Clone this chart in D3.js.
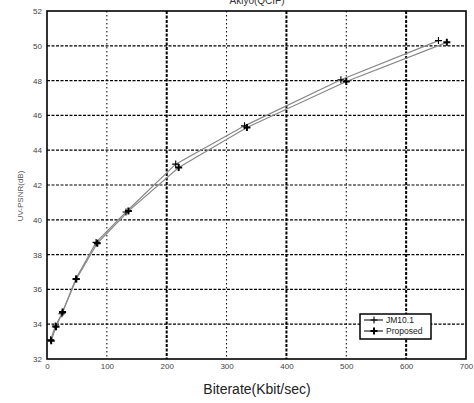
<html>
<head>
<script src="https://cdnjs.cloudflare.com/ajax/libs/d3/7.8.5/d3.min.js"></script>
<style>
  body { margin: 0; background: #fff; }
  text { font-family: "Liberation Sans", Arial, sans-serif; }
</style>
</head>
<body>
<script>
  // data
  var seriesNames = ["JM10.1", "Proposed"];
  var jmRate   = [6, 14, 25, 48, 82, 132, 215, 330, 491, 654];
  var jmPsnr   = [33.1, 33.9, 34.6, 36.6, 38.7, 40.45, 43.2, 45.4, 48.05, 50.3];
  var propRate = [7, 15, 26, 49, 84, 136, 220, 334, 500, 668];
  var propPsnr = [33.05, 33.85, 34.7, 36.6, 38.65, 40.5, 43.0, 45.3, 47.95, 50.2];
  var xTicks = [0, 100, 200, 300, 400, 500, 600, 700];
  var yTicks = [32, 34, 36, 38, 40, 42, 44, 46, 48, 50, 52];

  var W = 474, H = 403;
  var svg = d3.select("body").append("svg").attr("width", W).attr("height", H);

  var x = d3.scaleLinear().domain([0, 700]).range([47, 466]);
  var y = d3.scaleLinear().domain([32, 52]).range([359, 11]);

  // cropped title at the very top
  svg.append("text").attr("x", 257).attr("y", 4).attr("text-anchor", "middle")
     .attr("font-size", 10).attr("fill", "#333").text("Akiyo(QCIF)");

  // grid
  var g = svg.append("g");
  g.selectAll(".vg").data(xTicks.slice(1, -1)).enter().append("line")
    .attr("x1", function(d) { return x(d); }).attr("x2", function(d) { return x(d); })
    .attr("y1", y(52)).attr("y2", y(32))
    .attr("stroke", "#000")
    .attr("stroke-width", function(d) { return d % 200 == 0 ? 2 : 1; })
    .attr("stroke-dasharray", function(d) { return d % 200 == 0 ? "3,1.5" : "1.5,2.5"; });
  g.selectAll(".hg").data(yTicks.slice(1, -1)).enter().append("line")
    .attr("x1", x(0)).attr("x2", x(700))
    .attr("y1", function(d) { return y(d); }).attr("y2", function(d) { return y(d); })
    .attr("stroke", "#000").attr("stroke-width", 1.2)
    .attr("stroke-dasharray", "3,1.5");

  // axes
  var xAxis = svg.append("g").attr("transform", "translate(0," + y(32) + ")")
    .call(d3.axisBottom(x).tickValues(xTicks).tickSize(0).tickPadding(4));
  var yAxis = svg.append("g").attr("transform", "translate(" + x(0) + ",0)")
    .call(d3.axisLeft(y).tickValues(yTicks).tickSize(0).tickPadding(5));
  [xAxis, yAxis].forEach(function(a) {
    a.select(".domain").remove();
    a.selectAll("text").attr("font-size", 8).attr("fill", "#444")
      .attr("font-family", "'Liberation Sans', Arial, sans-serif");
  });

  // frame
  svg.append("rect").attr("x", x(0)).attr("y", y(52))
    .attr("width", x(700) - x(0)).attr("height", y(32) - y(52))
    .attr("fill", "none").attr("stroke", "#000").attr("stroke-width", 1.6);

  // lines
  var line = d3.line().x(function(d) { return x(d[0]); }).y(function(d) { return y(d[1]); });
  var jm = d3.zip(jmRate, jmPsnr);
  var prop = d3.zip(propRate, propPsnr);
  var series = [{ name: seriesNames[0], pts: jm, w: 1.1 }, { name: seriesNames[1], pts: prop, w: 2 }];

  series.forEach(function(s) {
    svg.append("path").datum(s.pts).attr("d", line)
      .attr("fill", "none").attr("stroke", "#888").attr("stroke-width", 1.2);
  });
  series.forEach(function(s) {
    var m = svg.append("g");
    s.pts.forEach(function(p) {
      var cx = x(p[0]), cy = y(p[1]);
      m.append("path").attr("d", "M" + (cx - 3.5) + "," + cy + "H" + (cx + 3.5) + "M" + cx + "," + (cy - 3.5) + "V" + (cy + 3.5))
        .attr("stroke", "#000").attr("stroke-width", s.w);
    });
  });

  // legend
  var lg = svg.append("g");
  lg.append("rect").attr("x", 360).attr("y", 314).attr("width", 71).attr("height", 25)
    .attr("fill", "#fff").attr("stroke", "#000").attr("stroke-width", 1.5);
  series.forEach(function(s, i) {
    var ly = 320 + i * 11;
    lg.append("line").attr("x1", 364).attr("x2", 383).attr("y1", ly).attr("y2", ly)
      .attr("stroke", "#000").attr("stroke-width", 1);
    lg.append("path").attr("d", "M370.5," + ly + "H377.5M374," + (ly - 3.5) + "V" + (ly + 3.5))
      .attr("stroke", "#000").attr("stroke-width", s.w);
    lg.append("text").attr("x", 386).attr("y", ly + 3).attr("font-size", 8.5)
      .attr("fill", "#222").text(s.name);
  });

  // axis labels
  svg.append("text").attr("x", 257).attr("y", 394).attr("text-anchor", "middle")
    .attr("font-size", 14).attr("fill", "#222").text("Biterate(Kbit/sec)");
  svg.append("text").attr("transform", "translate(23,196) rotate(-90)")
    .attr("text-anchor", "middle").attr("font-size", 8).attr("fill", "#555").text("UV-PSNR(dB)");
</script>
</body>
</html>
